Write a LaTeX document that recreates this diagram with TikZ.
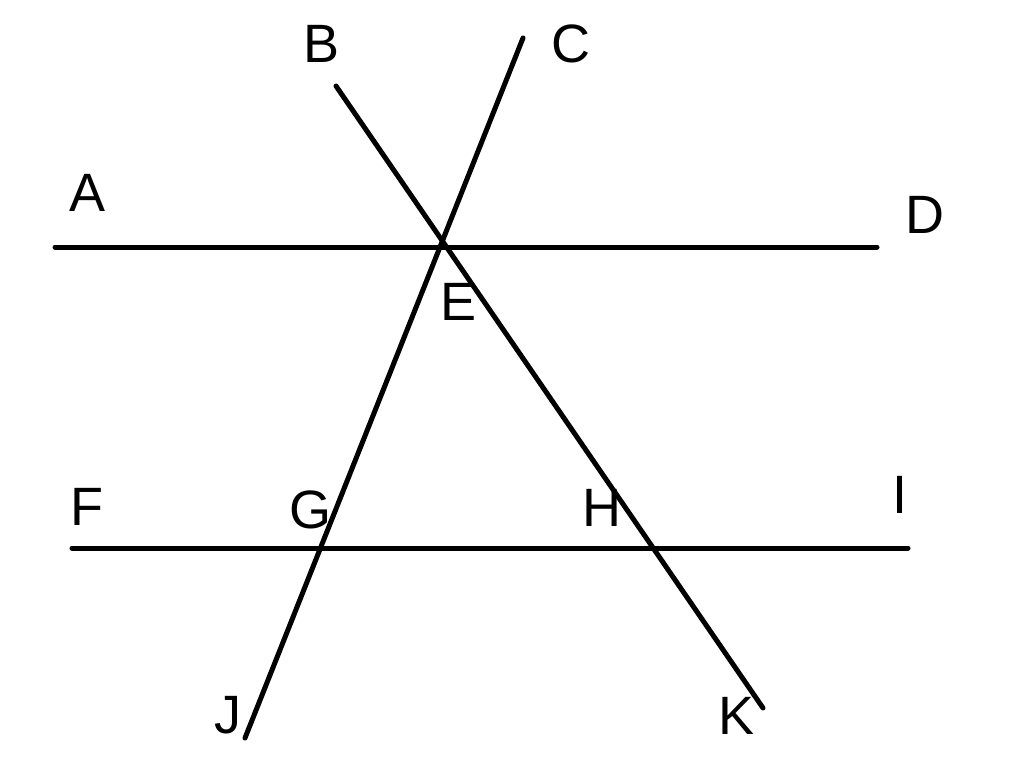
\documentclass[tikz,border=0pt]{standalone}
\usepackage{fontspec}
\setmainfont{Liberation Sans}
\begin{document}
\begin{tikzpicture}[x=1pt,y=-1pt,
  ln/.style={line width=5pt,line cap=round},
  lbl/.style={font=\fontsize{54}{60}\selectfont,inner sep=0pt,anchor=center}]
\useasboundingbox[fill=white] (0,0) rectangle (1024,769);
\coordinate (a) at (55,247);
\coordinate (d) at (877,247);
\coordinate (f) at (72,548);
\coordinate (i) at (908,548);
\coordinate (b) at (336,86);
\coordinate (k) at (763,708);
\coordinate (c) at (523,38);
\coordinate (j) at (245,738);
\draw[ln] (a) -- (d);
\draw[ln] (f) -- (i);
\draw[ln] (b) -- (k);
\draw[ln] (c) -- (j);
\node[lbl] (lA) at (88,193) {A};
\node[lbl] (lB) at (322,44) {B};
\node[lbl] (lC) at (571,44) {C};
\node[lbl] (lD) at (925,215) {D};
\node[lbl] (lE) at (459,302) {E};
\node[lbl] (lF) at (87,507) {F};
\node[lbl] (lG) at (310,510) {G};
\node[lbl] (lH) at (602,508) {H};
\node[lbl] (lI) at (900,495) {I};
\node[lbl] (lJ) at (228,715) {J};
\node[lbl] (lK) at (736,716) {K};
\end{tikzpicture}
\end{document}
